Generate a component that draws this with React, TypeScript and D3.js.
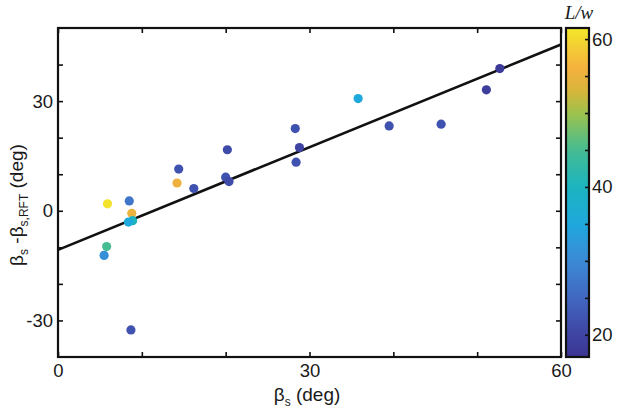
import { useRef, useEffect } from 'react';
import * as d3 from 'd3';

// beta_s (deg), beta_s - beta_s,RFT (deg), L/w
const betaS = [5.9, 8.5, 8.8, 14.2, 14.4, 16.2, 20.2, 20.0, 20.4, 28.3, 28.8, 28.4, 52.7, 35.8, 39.5, 45.7, 51.1, 8.9, 8.4, 5.8, 5.5, 8.7];
const deltaBeta = [1.9, 2.7, -0.7, 7.6, 11.4, 6.1, 16.7, 9.2, 8.0, 22.5, 17.3, 13.3, 38.9, 30.7, 23.2, 23.7, 33.1, -2.7, -3.1, -9.8, -12.2, -32.6];
const lw = [61, 27, 55, 55.5, 22, 22, 21, 22, 21, 22, 20, 22, 18, 35, 22, 22, 18.5, 40, 35, 45, 31, 22];

// linear fit
const fitX = [0, 60];
const fitY = [-10.7, 45.5];

const xTicks = [0, 10, 20, 30, 40, 50, 60];
const xLabels = [0, 30, 60];
const yTicks = [-30, -20, -10, 0, 10, 20, 30, 40];
const yLabels = [-30, 0, 30];
const cTicks = [20, 25, 30, 35, 40, 45, 50, 55, 60];
const cLabels = [20, 40, 60];

// parula-like colormap as it looks in the figure
const cmapStops = [17, 20, 25, 30, 35, 40, 45, 50, 53, 56, 61.5];
const cmapColors = ['#3b3594', '#3f44a3', '#4168c0', '#3b8ad6', '#1fa8dc', '#1cb4bf', '#45bc92', '#9ec24c', '#d8b53a', '#f4b03e', '#f3e82a'];

const FONT = '"Liberation Sans", Arial, sans-serif';

export default function App() {
  const svgRef = useRef<SVGSVGElement>(null);

  useEffect(() => {
    if (!svgRef.current) return;
    const svg = d3.select(svgRef.current);
    svg.selectAll('*').remove();

    const width = 617;
    const height = 412;
    const plot = { left: 58, top: 28, right: 561, bottom: 357 };
    const bar = { left: 566, right: 589 };

    svg.attr('width', width).attr('height', height).style('font-family', FONT);

    const x = d3.scaleLinear().domain([0, 60]).range([plot.left, plot.right]);
    const y = d3.scaleLinear().domain([-40, 50]).range([plot.bottom, plot.top]);
    const c = d3.scaleLinear().domain([17, 61.5]).range([plot.bottom, plot.top]);
    const color = d3.scaleLinear<string>().domain(cmapStops).range(cmapColors).interpolate(d3.interpolateRgb);

    const fmt = (labels: number[]) => (d: d3.NumberValue) => (labels.includes(+d) ? String(d) : '');

    // fit line
    const line = d3
      .line<number>()
      .x((d) => x(d))
      .y((_, i) => y(fitY[i]));
    svg.append('path')
      .datum(fitX)
      .attr('d', line)
      .attr('fill', 'none')
      .attr('stroke', '#111')
      .attr('stroke-width', 2.6);

    // points
    svg.append('g')
      .selectAll('circle')
      .data(betaS.map((b, i) => ({ b, d: deltaBeta[i], v: lw[i] })))
      .enter()
      .append('circle')
      .attr('cx', (d) => x(d.b))
      .attr('cy', (d) => y(d.d))
      .attr('r', 4.6)
      .attr('fill', (d) => color(d.v));

    // clip anything outside plot
    const axisStyle = (g: d3.Selection<SVGGElement, unknown, null, undefined>) => {
      g.select('.domain').remove();
      g.selectAll('.tick line').attr('stroke', '#111').attr('stroke-width', 1.6);
      g.selectAll('.tick text').attr('fill', '#1a1a1a').style('font-size', '18.5px').style('font-family', FONT);
    };

    svg.append('g')
      .attr('transform', `translate(0,${plot.bottom})`)
      .call(d3.axisBottom(x).tickValues(xTicks).tickSize(-5).tickPadding(7).tickFormat(fmt(xLabels)))
      .call(axisStyle);
    svg.append('g')
      .attr('transform', `translate(0,${plot.top})`)
      .call(d3.axisTop(x).tickValues(xTicks).tickSize(-5).tickFormat(() => ''))
      .call(axisStyle);
    svg.append('g')
      .attr('transform', `translate(${plot.left},0)`)
      .call(d3.axisLeft(y).tickValues(yTicks).tickSize(-5).tickPadding(5).tickFormat(fmt(yLabels)))
      .call(axisStyle);
    svg.append('g')
      .attr('transform', `translate(${plot.right},0)`)
      .call(d3.axisRight(y).tickValues(yTicks).tickSize(-5).tickFormat(() => ''))
      .call(axisStyle);

    svg.append('rect')
      .attr('x', plot.left)
      .attr('y', plot.top)
      .attr('width', plot.right - plot.left)
      .attr('height', plot.bottom - plot.top)
      .attr('fill', 'none')
      .attr('stroke', '#111')
      .attr('stroke-width', 2.2);

    // colorbar
    const grad = svg.append('defs')
      .append('linearGradient')
      .attr('id', 'cbar')
      .attr('x1', 0).attr('x2', 0).attr('y1', 1).attr('y2', 0);
    d3.range(0, 1.0001, 0.02).forEach((t) => {
      const v = 17 + t * (61.5 - 17);
      grad.append('stop').attr('offset', t).attr('stop-color', color(v));
    });
    svg.append('rect')
      .attr('x', bar.left)
      .attr('y', plot.top)
      .attr('width', bar.right - bar.left)
      .attr('height', plot.bottom - plot.top)
      .attr('fill', 'url(#cbar)')
      .attr('stroke', '#111')
      .attr('stroke-width', 2.2);
    svg.append('g')
      .attr('transform', `translate(${bar.right},0)`)
      .call(d3.axisRight(c).tickValues(cTicks).tickSize(-4).tickPadding(3).tickFormat(fmt(cLabels)))
      .call(axisStyle);

    // colorbar title
    svg.append('text')
      .attr('x', 579)
      .attr('y', 19)
      .attr('text-anchor', 'middle')
      .style('font-family', '"Liberation Serif", "Times New Roman", serif')
      .style('font-style', 'italic')
      .style('font-size', '19px')
      .attr('fill', '#1a1a1a')
      .text('L/w');

    // x label
    const xl = svg.append('text')
      .attr('x', 307)
      .attr('y', 401)
      .attr('text-anchor', 'middle')
      .attr('fill', '#1a1a1a')
      .style('font-size', '19px');
    xl.append('tspan').text('β');
    xl.append('tspan').attr('dy', 5).style('font-size', '12px').text('s');
    xl.append('tspan').attr('dy', -5).text(' (deg)');

    // y label
    const yl = svg.append('text')
      .attr('transform', 'translate(23,205) rotate(-90)')
      .attr('text-anchor', 'middle')
      .attr('fill', '#1a1a1a')
      .style('font-size', '19px');
    yl.append('tspan').text('β');
    yl.append('tspan').attr('dy', 5).style('font-size', '12px').text('s');
    yl.append('tspan').attr('dy', -5).text(' -β');
    yl.append('tspan').attr('dy', 5).style('font-size', '12px').text('s,RFT');
    yl.append('tspan').attr('dy', -5).text(' (deg)');
  }, []);

  return (
    <div style={{ position: 'absolute', left: 0, top: 0 }}>
      <svg ref={svgRef} />
    </div>
  );
}
